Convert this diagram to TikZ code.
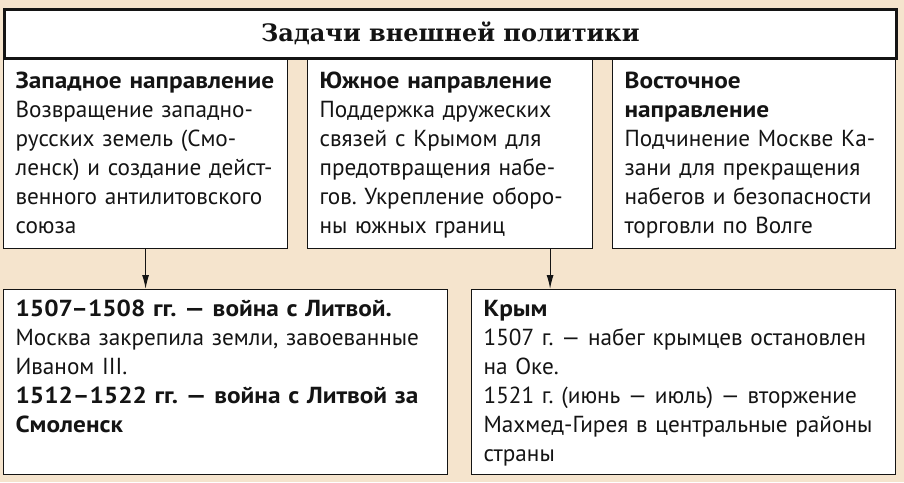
\documentclass[tikz,border=0pt]{standalone}
\usepackage{fontspec}
\setmainfont{PT Sans}[BoldFeatures={FakeStretch=1.09}]
\newfontfamily\titlefont{DejaVu Serif}
\usetikzlibrary{arrows.meta}
\definecolor{paper}{RGB}{245,228,205}
\definecolor{ink}{RGB}{20,20,20}

\tikzset{
  box/.style={draw=ink,line width=1.2pt,fill=white,anchor=north west,
    align=left,inner xsep=12pt,inner ysep=9pt,text height=22pt,
    text=ink,font=\fontsize{23.2}{29}\selectfont},
  arr/.style={draw=ink,line width=1.2pt,-{Latex[length=14pt,width=7pt]}}
}

\begin{document}
\frenchspacing
\begin{tikzpicture}[x=1pt,y=-1pt]
\fill[paper] (0,0) rectangle (904,482);
\useasboundingbox (0,0) rectangle (904,482);

% upper row
\node[box,text width=260pt,text depth=151pt] (zapad) at (3,57)
  {\textbf{Западное направление}\\
   Возвращение западно-\\
   русских земель (Смо-\\
   ленск) и создание дейст-\\
   венного антилитовского\\
   союза};
\node[box,text width=261pt,text depth=151pt] (yug) at (307,57)
  {\textbf{Южное направление}\\
   Поддержка дружеских\\
   связей с Крымом для\\
   предотвращения набе-\\
   гов. Укрепление оборо-\\
   ны южных границ};
\node[box,text width=259pt,text depth=151pt] (vostok) at (612,57)
  {\textbf{Восточное}\\
   \textbf{направление}\\
   Подчинение Москве Ка-\\
   зани для прекращения\\
   набегов и безопасности\\
   торговли по Волге};

% lower row
\node[box,inner ysep=5pt,text width=420pt,text depth=153pt] (litva) at (3,289)
  {\textbf{1507--1508 гг. --- война с Литвой.}\\
   Москва закрепила земли, завоеванные\\
   Иваном III.\\
   \textbf{1512--1522 гг. --- война с Литвой за}\\
   \textbf{Смоленск}};
\node[box,inner ysep=5pt,text width=400pt,text depth=153pt] (krym) at (471,289)
  {\textbf{Крым}\\
   1507 г. --- набег крымцев остановлен\\
   на Оке.\\
   1521 г. (июнь --- июль) --- вторжение\\
   Махмед-Гирея в центральные районы\\
   страны};

% title on top
\node[draw=ink,line width=2.6pt,fill=white,anchor=north west,
  minimum width=892pt,minimum height=49pt,inner sep=0pt,text=ink,
  font=\titlefont\bfseries\fontsize{24}{28}\selectfont] (title) at (3,8)
  {Задачи внешней политики};

\draw[arr] (zapad.south) -- (zapad.south |- litva.north);
\draw[arr] ([xshift=100pt]yug.south) -- ([xshift=100pt]yug.south |- krym.north);
\end{tikzpicture}
\end{document}
